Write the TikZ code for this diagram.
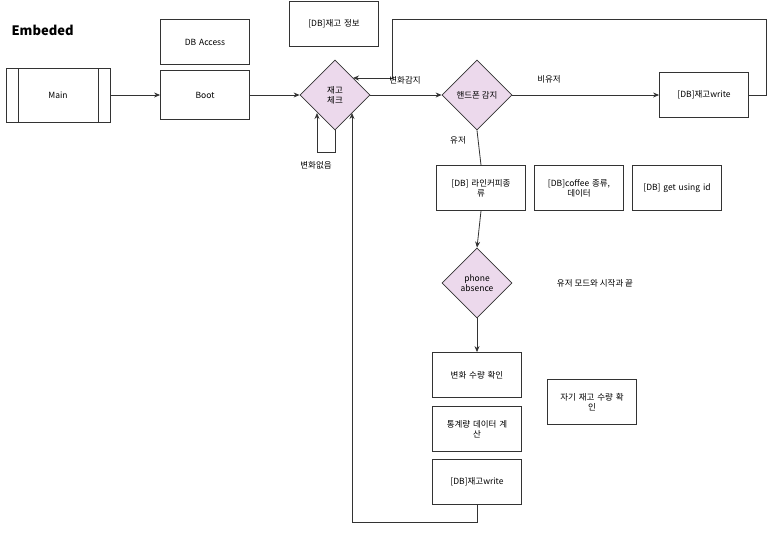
\documentclass[tikz,border=0pt]{standalone}
\usepackage{fontspec}
\setmainfont{Noto Sans CJK KR}
\usetikzlibrary{shapes.geometric,arrows.meta}
\begin{document}
\begin{tikzpicture}[x=1pt,y=-1pt,
  every node/.style={font=\fontsize{8.5}{10}\selectfont},
  box/.style={draw=black!80,thick,fill=white,minimum width=89pt,minimum height=45pt,align=center,text width=84pt,inner sep=1pt},
  dia/.style={draw=black!80,thick,fill=violet!15!white,diamond,minimum width=70pt,minimum height=70pt,inner sep=0pt,align=center,aspect=1},
  con/.style={draw=black!80,thick,-{Stealth[length=6pt,width=5pt]}},
  lbl/.style={fill=white,inner sep=1pt}]
\useasboundingbox (0,0) rectangle (776,536);
\node[anchor=west,font=\fontsize{13}{15}\selectfont\bfseries] (title) at (8,30) {Embeded};
\node[box,minimum width=104pt,minimum height=54pt] (main) at (58,95) {Main};
\draw[black!80,thick] (18,68) -- (18,122) (98,68) -- (98,122);
\node[box] (dbacc) at (205,42) {DB Access};
\node[box,minimum height=49pt] (boot) at (205,95) {Boot};
\node[dia] (chk) at (335,95) {재고\\체크};
\node[box] (dbinfo) at (334,24) {[DB]재고 정보};
\node[dia] (hp) at (477,95) {핸드폰 감지};
\node[box] (w1) at (704,95) {[DB]재고write};
\node[box] (line) at (481,188) {[DB] 라인커피종\\류};
\node[box] (coffee) at (579,188) {[DB]coffee 종류,\\데이터};
\node[box] (gid) at (677,188) {[DB] get using id};
\node[dia] (pa) at (477,283) {phone\\absence};
\node[box] (chg) at (477,375) {변화 수량 확인};
\node[box] (stat) at (477,429) {통계량 데이터 계\\산};
\node[box] (w2) at (477,482) {[DB]재고write};
\node[box] (self) at (592,402) {자기 재고 수량 확\\인};
\node (mode) at (595,283) {유저 모드와 시작과 끝};
\draw[con] (main) -- (boot);
\draw[con] (boot) -- (chk);
\draw[con] (chk) -- (hp);
\draw[con] (hp) -- node[pos=0.25,above=8pt] (nu) {비유저} (w1);
\draw[con] (w1.east) -- (766,95) -- (766,19) -- (392,19) -- (392,78) -- (353,78);
\node (gam) at (405,80) {변화감지};
\draw[black!80,thick] (hp.south) -- (line.north);
\node (u) at (458,140) {유저};
\draw[con] (line.south) -- (pa.north);
\draw[con] (pa.south) -- (chg.north);
\draw[con] (335,130) -- (335,152) -- (317,152) -- (317,113);
\node (nochg) at (316,165) {변화없음};
\draw[con] (w2.south) -- (477,522) -- (352,522) -- (352,113);
\end{tikzpicture}
\end{document}
